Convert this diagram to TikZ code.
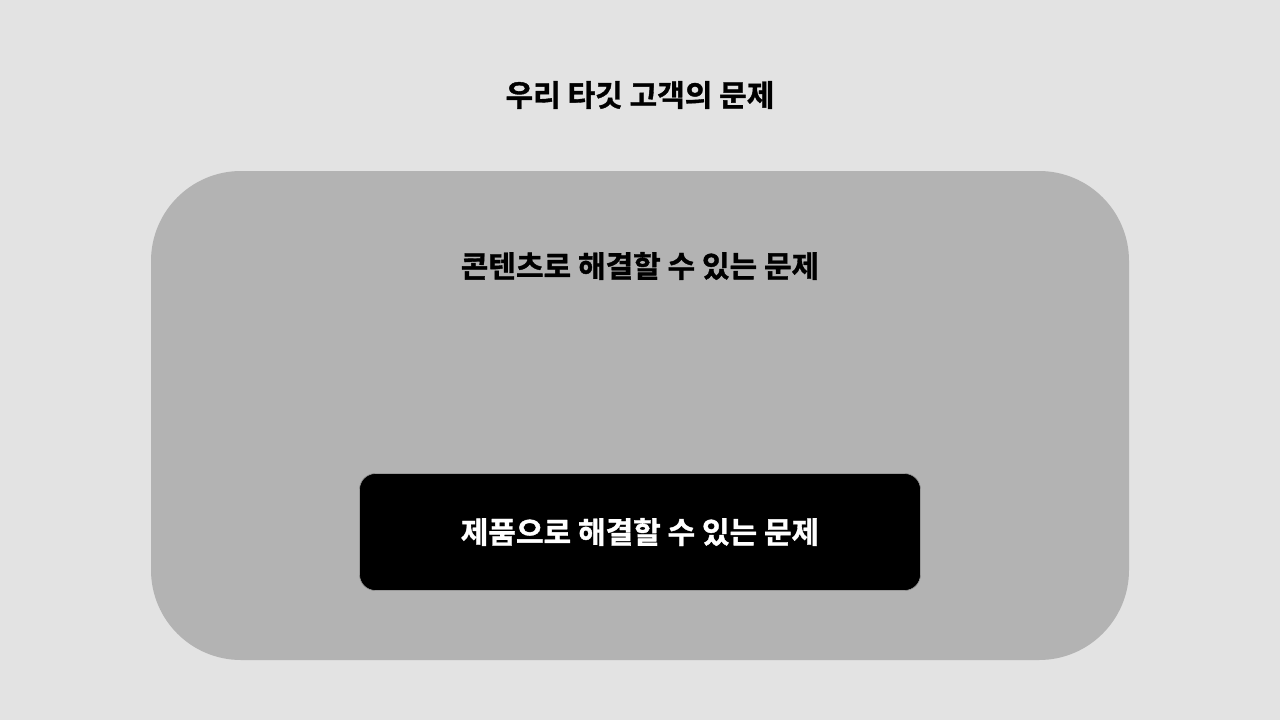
\documentclass[tikz,border=0pt]{standalone}
\usepackage{fontspec}
\newfontfamily\kr{Noto Sans CJK KR}[BoldFont={Noto Sans CJK KR Bold},BoldFeatures={FakeBold=1.2}]
\definecolor{bgc}{HTML}{E3E3E3}
\definecolor{outerc}{HTML}{B3B3B3}
\definecolor{edgec}{HTML}{9A9A9A}
\tikzset{
  lbl/.style={font=\kr\bfseries\fontsize{30}{34}\selectfont, inner sep=0pt, anchor=center},
}
\begin{document}
\begin{tikzpicture}[x=1pt,y=-1pt]
\fill[bgc] (0,0) rectangle (1280,720);
\useasboundingbox (0,0) rectangle (1280,720);
\node[lbl] (title) at (640,95) {우리 타깃 고객의 문제};
\path[fill=outerc, rounded corners=90pt] (151,171) rectangle (1129,660);
\node (outer) at (640,415.5) [minimum width=978pt, minimum height=489pt, inner sep=0pt] {};
\node[lbl] (content) at (640,266) {콘텐츠로 해결할 수 있는 문제};
\path[fill=black, draw=edgec, line width=0.6pt, rounded corners=16pt] (359.5,473.5) rectangle (920.5,590.5);
\node[lbl, text=white] (product) at (640,532) {제품으로 해결할 수 있는 문제};
\end{tikzpicture}
\end{document}
